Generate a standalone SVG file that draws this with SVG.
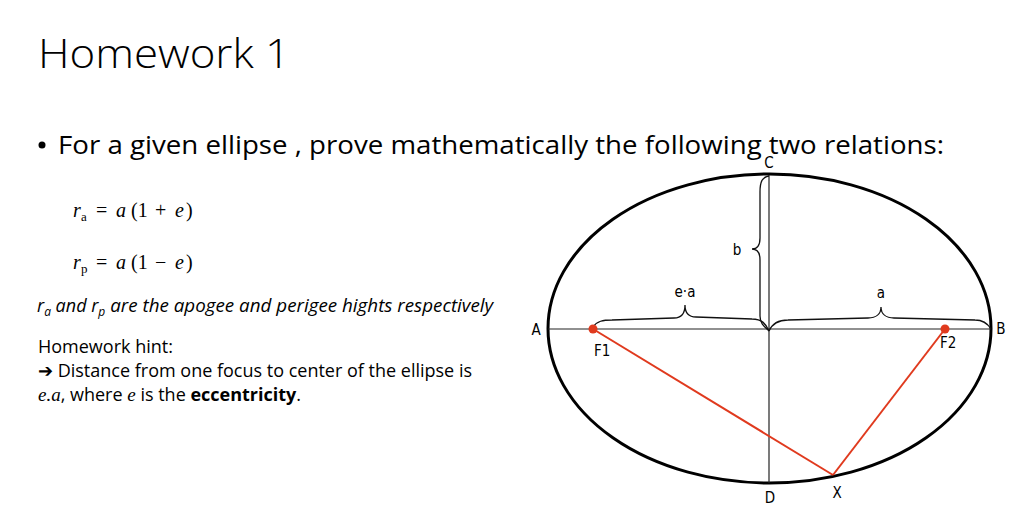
<svg xmlns="http://www.w3.org/2000/svg" width="1024" height="518" viewBox="0 0 1024 518">
<style>
.title{font-family:"Open Sans","Liberation Sans",sans-serif;font-weight:300;font-size:40px;fill:#000}
.body{font-family:"Open Sans","Liberation Sans",sans-serif;fill:#000}
.math{font-family:"Liberation Serif","DejaVu Serif",serif;font-size:20px;fill:#000}
.it{font-style:italic}
.sub{font-size:13px}
.lbl{font-family:"DejaVu Sans Condensed","DejaVu Sans","Liberation Sans",sans-serif;font-stretch:condensed;font-size:15px;fill:#000}
.axis{stroke:#222;stroke-width:1.2;fill:none}
.brace{stroke:#111;stroke-width:1.3;fill:none}
.red{stroke:#e03a1e;stroke-width:2;fill:none}
.dot{fill:#e03a1e}
</style>
<rect width="1024" height="518" fill="#fff"/>
<g id="title"><text class="title" x="38" y="68" textLength="252" lengthAdjust="spacingAndGlyphs">Homework 1</text></g>
<g id="bullet">
<circle cx="42" cy="145" r="3.5" fill="#000"/>
<text class="body" x="58" y="154" font-size="26" textLength="886" lengthAdjust="spacingAndGlyphs">For a given ellipse , prove mathematically the following two relations:</text>
</g>
<g id="formulas">
<text class="math" y="217"><tspan class="it" x="73">r</tspan><tspan class="sub" x="81" dy="4">a</tspan><tspan x="96" dy="-4">=</tspan><tspan class="it" x="116">a</tspan><tspan x="131">(1</tspan><tspan x="155">+</tspan><tspan class="it" x="175">e</tspan><tspan x="186">)</tspan></text>
<text class="math" y="269"><tspan class="it" x="73">r</tspan><tspan class="sub" x="81" dy="4">p</tspan><tspan x="96" dy="-4">=</tspan><tspan class="it" x="116">a</tspan><tspan x="131">(1</tspan><tspan x="155">−</tspan><tspan class="it" x="175">e</tspan><tspan x="186">)</tspan></text>
</g>
<g id="note">
<text class="body it" x="37" y="312" font-size="18"><tspan>r</tspan><tspan font-size="12" dy="4">a</tspan><tspan dy="-4"> and r</tspan><tspan font-size="12" dy="4">p</tspan><tspan dy="-4" textLength="388" lengthAdjust="spacingAndGlyphs"> are the apogee and perigee hights respectively</tspan></text>
</g>
<g id="hint">
<text class="body" x="38" y="353" font-size="18">Homework hint:</text>
<text class="body" x="38" y="377" font-size="18">➔ Distance from one focus to center of the ellipse is</text>
<text class="body" x="38" y="401" font-size="18"><tspan font-family="Liberation Serif,serif" font-style="italic" font-size="19">e.a</tspan>, where <tspan font-family="Liberation Serif,serif" font-style="italic" font-size="19">e</tspan> is the <tspan font-weight="bold">eccentricity</tspan>.</text>
</g>
<g id="ellipse">
<ellipse cx="769.5" cy="328.5" rx="221.5" ry="154.5" fill="none" stroke="#000" stroke-width="3"/>
</g>
<g id="connectors">
<line class="axis" x1="548" y1="329" x2="991" y2="329"/>
<line class="axis" x1="769" y1="175" x2="769" y2="483"/>
<path class="brace" d="M769,176 C762,177 760,182 760,192 L760,238 C760,246 757,249 752,249 C757,249 760,252 760,260 L760,316 C760,324 765,327 769,331"/>
<path class="brace" d="M593,327 C597,321 603,320 612,320 L674,318 C681,318 685,314 685,305 C685,314 689,317 696,317 L752,319 C762,319 766,324 769,331"/>
<path class="brace" d="M769,331 C772,324 778,320 788,320 L868,318 C876,318 881,314 881,307 C881,314 886,318 894,318 L975,320 C984,320 988,324 991,329"/>
<line class="red" x1="593" y1="329" x2="833" y2="475"/>
<line class="red" x1="945" y1="329" x2="833" y2="475"/>
</g>
<g id="F1"><circle class="dot" cx="593" cy="329" r="4.5"/><text class="lbl" x="594" y="356">F1</text></g>
<g id="F2"><circle class="dot" cx="945" cy="329" r="4.5"/><text class="lbl" x="940" y="348">F2</text></g>
<g id="A"><text class="lbl" x="536" y="335" text-anchor="middle">A</text></g>
<g id="B"><text class="lbl" x="1001" y="334" text-anchor="middle">B</text></g>
<g id="C"><text class="lbl" x="769" y="168" text-anchor="middle">C</text></g>
<g id="D"><text class="lbl" x="770" y="503" text-anchor="middle">D</text></g>
<g id="X"><text class="lbl" x="837" y="498" text-anchor="middle">X</text></g>
<g id="lb"><text class="lbl" x="737" y="255" text-anchor="middle">b</text></g>
<g id="lea"><text class="lbl" x="685" y="297" text-anchor="middle">e·a</text></g>
<g id="la"><text class="lbl" x="881" y="298" text-anchor="middle">a</text></g>
</svg>
